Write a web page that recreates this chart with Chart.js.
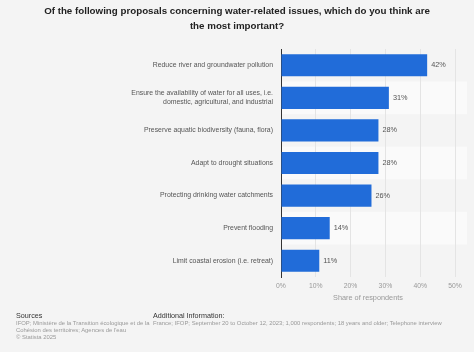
<!DOCTYPE html>
<html>
<head>
<meta charset="utf-8">
<script src="https://cdn.jsdelivr.net/npm/chart.js@4/dist/chart.umd.min.js"></script>
<style>
  html, body { margin: 0; padding: 0; background: #f4f4f4; }
  #wrap { position: relative; width: 474px; height: 352px; overflow: hidden; font-family: "Liberation Sans", Arial, sans-serif; }
  #chart { position: absolute; left: 0; top: 0; }
  #title { position: absolute; left: 0; top: 4px; width: 474px; text-align: center; font-weight: bold; font-size: 9.75px; line-height: 14.5px; color: #222; }
  .foot { position: absolute; font-size: 5.9px; line-height: 7px; color: #999; }
  .foot b { display: block; font-weight: normal; font-size: 7.2px; line-height: 9px; color: #333; }
</style>
</head>
<body>
<div id="wrap">
  <canvas id="chart" width="474" height="352"></canvas>
  <div id="title">Of the following proposals concerning water-related issues, which do you think are<br>the most important?</div>
  <div class="foot" style="left:16px; top:311px;"><b>Sources</b>IFOP; Ministère de la Transition écologique et de la<br>Cohésion des territoires; Agences de l'eau<br>© Statista 2025</div>
  <div class="foot" style="left:153px; top:311px;"><b>Additional Information:</b>France; IFOP; September 20 to October 12, 2023; 1,000 respondents; 18 years and older; Telephone interview</div>
</div>
<script>
const categories = [
  'Reduce river and groundwater pollution',
  ['Ensure the availability of water for all uses, i.e.', 'domestic, agricultural, and industrial'],
  'Preserve aquatic biodiversity (fauna, flora)',
  'Adapt to drought situations',
  'Protecting drinking water catchments',
  'Prevent flooding',
  'Limit coastal erosion (i.e. retreat)'
];
const shares = [42, 31, 28, 28, 26, 14, 11];
const xTicks = [0, 10, 20, 30, 40, 50];

const FONT = '"Liberation Sans", Arial, sans-serif';

// alternating row bands behind the bars
const rowBands = {
  id: 'rowBands',
  beforeDraw(chart) {
    const { ctx, chartArea, scales } = chart;
    const y = scales.y;
    const band = (chartArea.bottom - chartArea.top) / categories.length;
    ctx.save();
    ctx.fillStyle = '#fafafa';
    categories.forEach((c, i) => {
      if (i % 2 === 1) {
        const cy = y.getPixelForValue(i);
        ctx.fillRect(chartArea.left, cy - band / 2, chartArea.right - chartArea.left + 12, band);
      }
    });
    ctx.restore();
  }
};

// value labels at the end of each bar
const valueLabels = {
  id: 'valueLabels',
  afterDatasetsDraw(chart) {
    const { ctx } = chart;
    const meta = chart.getDatasetMeta(0);
    ctx.save();
    ctx.font = '7.3px ' + FONT;
    ctx.fillStyle = '#555';
    ctx.textAlign = 'left';
    ctx.textBaseline = 'middle';
    meta.data.forEach((bar, i) => {
      ctx.fillText(shares[i] + '%', bar.x + 4, bar.y);
    });
    ctx.restore();
  }
};

new Chart(document.getElementById('chart'), {
  type: 'bar',
  data: {
    labels: categories,
    datasets: [{
      data: shares,
      backgroundColor: '#216cd9',
      borderWidth: 0,
      barPercentage: 0.68,
      categoryPercentage: 1
    }]
  },
  options: {
    indexAxis: 'y',
    responsive: false,
    animation: false,
    events: [],
    layout: { padding: { top: 49, left: 0, right: 19, bottom: 45 } },
    plugins: {
      legend: { display: false },
      tooltip: { enabled: false },
      title: { display: false }
    },
    scales: {
      x: {
        min: 0,
        max: 50,
        afterBuildTicks(axis) { axis.ticks = xTicks.map(v => ({ value: v })); },
        afterFit(axis) { axis.height = 30; },
        grid: { color: '#e4e4e4', drawTicks: false },
        border: { display: false },
        ticks: {
          padding: 5,
          color: '#999',
          font: { size: 6.8, family: FONT },
          callback: v => v + '%'
        },
        title: {
          display: true,
          text: 'Share of respondents',
          color: '#999',
          font: { size: 7.3, family: FONT },
          padding: { top: 0, bottom: 5 }
        }
      },
      y: {
        afterFit(axis) { axis.width = 281; },
        grid: { display: false, drawTicks: false },
        border: { display: true, color: '#333', width: 1 },
        ticks: {
          padding: 8,
          color: '#555',
          font: { size: 6.9, family: FONT, lineHeight: 1.35 }
        }
      }
    }
  },
  plugins: [rowBands, valueLabels]
});
</script>
</body>
</html>
